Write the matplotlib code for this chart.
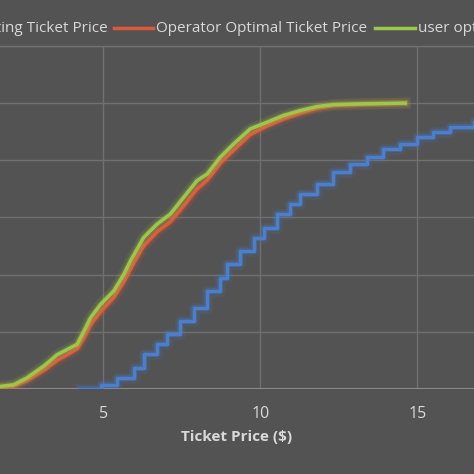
import matplotlib
matplotlib.use("Agg")
import matplotlib.pyplot as plt
import matplotlib.patheffects as pe
from matplotlib.lines import Line2D

opt_x = [1.0, 1.74, 2.16, 2.58, 3.11, 3.54, 4.17, 4.39, 4.60, 4.92, 5.34, 5.66, 5.87, 6.29, 6.72,
         7.14, 7.56, 7.99, 8.31, 8.73, 9.15, 9.68, 10.21, 10.74, 11.27, 11.80, 12.33, 13.39, 14.61]
user_y = [0.0, 0.009, 0.015, 0.039, 0.080, 0.120, 0.156, 0.202, 0.249, 0.296, 0.343, 0.401, 0.448,
          0.530, 0.577, 0.612, 0.670, 0.729, 0.752, 0.811, 0.857, 0.910, 0.933, 0.957, 0.974, 0.988,
          0.995, 0.998, 1.0]
oper_y = [0.0, 0.005, 0.01, 0.03, 0.065, 0.10, 0.14, 0.18, 0.225, 0.27, 0.32, 0.375, 0.42, 0.50,
          0.55, 0.585, 0.64, 0.70, 0.73, 0.79, 0.835, 0.89, 0.92, 0.945, 0.965, 0.982, 0.992, 0.997, 1.0]
exist_x = [4.28, 4.92, 5.44, 5.97, 6.29, 6.72, 7.03, 7.46, 7.88, 8.31, 8.73, 8.94, 9.36, 9.79, 10.11,
           10.53, 10.95, 11.27, 11.80, 12.33, 12.86, 13.39, 13.92, 14.45, 14.98, 15.51, 16.04, 16.80, 17.5]
exist_y = [0, .015, .039, .074, .121, .156, .191, .238, .285, .343, .390, .437, .484, .530, .565,
           .612, .647, .682, .718, .759, .788, .811, .840, .858, .881, .899, .916, .933, .95]

BG = "#535353"
TXT = "#d9d9d9"
GRID = "#707070"
BLUE, RED, GREEN = "#4a7fd0", "#e0583a", "#9cc84a"

fig = plt.figure(figsize=(4.74, 4.74), dpi=100, facecolor=BG)
ax = fig.add_axes([0, 85/474, 1, (389-46)/474])
ax.set_facecolor(BG)
ax.set_xlim(1.72, 16.8)
ax.set_ylim(0, 1.2)
ax.set_xticks([5, 10, 15])
ax.set_yticks([0, 0.2, 0.4, 0.6, 0.8, 1.0, 1.2])
ax.grid(True, color=GRID, lw=1)
ax.tick_params(axis='y', left=False, labelleft=False)
ax.tick_params(axis='x', length=0, colors=TXT, labelsize=11.5, pad=12)
for s in ax.spines.values():
    s.set_visible(False)
ax.axhline(0, color="#8a8a8a", lw=1.5)

def glow(c):
    return [pe.Stroke(linewidth=8, foreground=c, alpha=0.12), pe.Stroke(linewidth=4.5, foreground=c, alpha=0.25), pe.Normal()]

ax.plot(exist_x, exist_y, drawstyle='steps-post', color=BLUE, lw=2.5, path_effects=glow(BLUE))
ax.plot(opt_x, oper_y, color=RED, lw=2.5, path_effects=glow(RED))
ax.plot(opt_x, user_y, color=GREEN, lw=2.5, path_effects=glow(GREEN))

ax.set_xlabel("Ticket Price ($)", color=TXT, fontsize=11, fontweight='bold', labelpad=6)
for lab in ax.get_xticklabels():
    lab.set_fontfamily("Open Sans")
ax.xaxis.label.set_fontfamily("Open Sans")

y = 1 - 28/474
fs = 11
fig.text(108/474, y, "Existing Ticket Price", ha='right', va='center', color=TXT, fontsize=fs, family="Open Sans")
fig.add_artist(Line2D([114/474, 153/474], [y, y], color=RED, lw=2.5))
fig.text(156/474, y, "Operator Optimal Ticket Price", ha='left', va='center', color=TXT, fontsize=fs, family="Open Sans")
fig.add_artist(Line2D([375/474, 415/474], [y, y], color=GREEN, lw=2.5))
fig.text(418/474, y, "user optimal Ticket Price", ha='left', va='center', color=TXT, fontsize=fs, family="Open Sans")
fig.add_artist(Line2D([0, 1], [1-46/474]*2, color=GRID, lw=1))

fig.savefig("out.png", dpi=100, facecolor=BG)
